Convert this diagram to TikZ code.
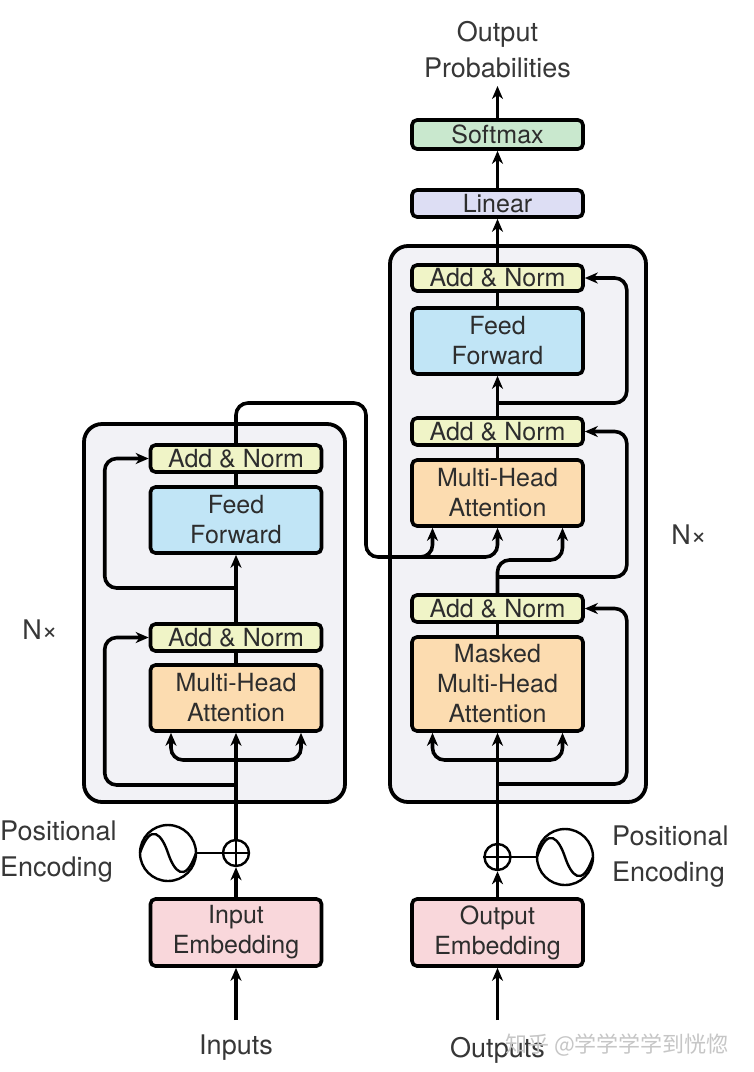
\documentclass[tikz,border=0pt]{standalone}
\usepackage{fontspec}
\setmainfont{TeX Gyre Heros}
\newfontfamily\cjkfont{Noto Sans CJK SC}
\usetikzlibrary{arrows.meta,calc}
\definecolor{anc}{RGB}{240,244,199}
\definecolor{ffc}{RGB}{193,229,246}
\definecolor{mhac}{RGB}{252,220,176}
\definecolor{embc}{RGB}{249,215,219}
\definecolor{softc}{RGB}{201,232,206}
\definecolor{linc}{RGB}{221,222,244}
\definecolor{outerc}{RGB}{242,242,246}
\definecolor{txt}{RGB}{45,45,45}
\definecolor{lab}{RGB}{55,55,55}
\begin{document}
\begin{tikzpicture}[x=1pt,y=-1pt,
  blk/.style={draw=black, line width=3.6pt, rounded corners=5pt, minimum width=171pt, align=center, text=txt, font=\fontsize{25}{30}\selectfont, inner sep=0pt},
  arr/.style={line width=3.6pt, -{Stealth[length=13pt,width=11pt,inset=4pt]}},
  ln/.style={line width=3.6pt},
  rc/.style={rounded corners=12pt},
  lbl/.style={text=lab, font=\fontsize{27}{36}\selectfont, align=left, inner sep=0pt},
  outerbox/.style={draw=black, fill=outerc, line width=3.8pt, rounded corners=18pt},
  ring/.style={circle, draw=black, line width=2.4pt, inner sep=0pt}]
\useasboundingbox[fill=white] (0,0) rectangle (754,1072);

% outer stacks
\draw[outerbox] (84,424) rectangle (345,802);
\draw[outerbox] (390,246) rectangle (646,802);

% encoder blocks
\node[blk, fill=anc, minimum height=27pt] (eAN2) at (236,458.5) {Add \& Norm};
\node[blk, fill=ffc, minimum height=66pt] (eFF) at (236,520) {Feed\\Forward};
\node[blk, fill=anc, minimum height=27pt] (eAN1) at (236,637.5) {Add \& Norm};
\node[blk, fill=mhac, minimum height=66pt] (eMHA) at (236,698) {Multi-Head\\Attention};
\node[blk, fill=embc, minimum height=67pt] (eEmb) at (236,932.5) {Input\\Embedding};

% decoder blocks
\node[blk, fill=softc, minimum height=29pt] (soft) at (497.5,134.5) {Softmax};
\node[blk, fill=linc, minimum height=27pt] (lin) at (497.5,203.5) {Linear};
\node[blk, fill=anc, minimum height=26pt] (dAN3) at (497.5,278) {Add \& Norm};
\node[blk, fill=ffc, minimum height=66pt] (dFF) at (497.5,341) {Feed\\Forward};
\node[blk, fill=anc, minimum height=27pt] (dAN2) at (497.5,431.5) {Add \& Norm};
\node[blk, fill=mhac, minimum height=66pt] (dMHA) at (497.5,493) {Multi-Head\\Attention};
\node[blk, fill=anc, minimum height=27pt] (dAN1) at (497.5,608.5) {Add \& Norm};
\node[blk, fill=mhac, minimum height=94pt] (dMMHA) at (497.5,684) {Masked\\Multi-Head\\Attention};
\node[blk, fill=embc, minimum height=67pt] (dEmb) at (497.5,932.5) {Output\\Embedding};

% positional encodings
\node[ring, minimum size=56pt] (ePE) at (168,853) {};
\node[ring, minimum size=26pt] (ePlus) at (236,853) {};
\node[ring, minimum size=56pt] (dPE) at (565,857) {};
\node[ring, minimum size=26pt] (dPlus) at (497.5,857) {};
\draw[line width=2.2pt] (ePlus.north) -- (ePlus.south) (ePlus.west) -- (ePlus.east);
\draw[line width=2.2pt] (dPlus.north) -- (dPlus.south) (dPlus.west) -- (dPlus.east);
\draw[line width=2.4pt] ($(ePE.center)+(-28,0)$) .. controls ($(ePE.center)+(-17,-32)$) and ($(ePE.center)+(-6,-18)$) .. (ePE.center) .. controls ($(ePE.center)+(6,18)$) and ($(ePE.center)+(17,32)$) .. ($(ePE.center)+(28,0)$);
\draw[line width=2.4pt] ($(dPE.center)+(-28,0)$) .. controls ($(dPE.center)+(-17,-32)$) and ($(dPE.center)+(-6,-18)$) .. (dPE.center) .. controls ($(dPE.center)+(6,18)$) and ($(dPE.center)+(17,32)$) .. ($(dPE.center)+(28,0)$);

% labels
\node[lbl, anchor=west] (ePEt) at (0,852) {Positional\\Encoding};
\node[lbl, anchor=west] (dPEt) at (612,857) {Positional\\Encoding};
\node[lbl] (eN) at (40,630) {N×};
\node[lbl] (dN) at (689,535) {N×};
\node[lbl, align=center] (prob) at (497.5,50) {Output\\Probabilities};
\node[lbl] (inp) at (236,1048) {Inputs};
\node[lbl] (outp) at (497.5,1050) {Outputs};
\node[text=gray!45, font=\cjkfont\fontsize{22}{22}\selectfont, anchor=west, inner sep=0pt] (wm) at (505,1045) {知乎 @学学学学到恍惚};

% encoder connectors
\coordinate (eIn) at (236,1020);
\coordinate (eBr) at (236,760);
\coordinate (eR1) at (236,785);
\coordinate (eR2) at (236,588);
\coordinate (eO1) at (236,403);
\coordinate (eO2) at (366,403);
\coordinate (eO3) at (366,557);
\coordinate (eO4) at (405,557);
\draw[arr] (eIn) -- (eEmb.south);
\draw[arr] (eEmb.north) -- (ePlus.south);
\draw[line width=2.4pt] (ePE.east) -- (ePlus.west);
\draw[arr] (ePlus.north) -- (eMHA.south);
\draw[arr,rc] (eBr) -| ($(eMHA.south)+(-65,0)$);
\draw[arr,rc] (eBr) -| ($(eMHA.south)+(65,0)$);
\draw[arr,rc] (eR1) -| ($(eAN1.west)+(-44,0)$) -- (eAN1.west);
\draw[ln] (eMHA.north) -- (eAN1.south);
\draw[arr] (eAN1.north) -- (eFF.south);
\draw[arr,rc] (eR2) -| ($(eAN2.west)+(-44,0)$) -- (eAN2.west);
\draw[ln] (eFF.north) -- (eAN2.south);
\draw[arr,rc] (eAN2.north) -- (eO1) -- (eO2) -- (eO3) -| ($(dMHA.south)+(-65,0)$);
\draw[arr,rc] (eO4) -| (dMHA.south);

% decoder connectors
\coordinate (dIn) at (497.5,1020);
\coordinate (dBr) at (497.5,760);
\coordinate (dR1) at (497.5,784);
\coordinate (dQ) at (497.5,560);
\coordinate (dR2) at (497.5,577);
\coordinate (dR3) at (497.5,403);
\coordinate (probTip) at (497.5,86);
\draw[arr] (dIn) -- (dEmb.south);
\draw[arr] (dEmb.north) -- (dPlus.south);
\draw[line width=2.4pt] (dPlus.east) -- (dPE.west);
\draw[arr] (dPlus.north) -- (dMMHA.south);
\draw[arr,rc] (dBr) -| ($(dMMHA.south)+(-65,0)$);
\draw[arr,rc] (dBr) -| ($(dMMHA.south)+(65,0)$);
\draw[arr,rc] (dR1) -| ($(dAN1.east)+(42,0)$) -- (dAN1.east);
\draw[ln] (dMMHA.north) -- (dAN1.south);
\draw[arr,rc] (dAN1.north) -- (dQ) -| ($(dMHA.south)+(65,0)$);
\draw[arr,rc] (dR2) -| ($(dAN2.east)+(42,0)$) -- (dAN2.east);
\draw[ln] (dMHA.north) -- (dAN2.south);
\draw[arr] (dAN2.north) -- (dFF.south);
\draw[arr,rc] (dR3) -| ($(dAN3.east)+(42,0)$) -- (dAN3.east);
\draw[ln] (dFF.north) -- (dAN3.south);
\draw[arr] (dAN3.north) -- (lin.south);
\draw[arr] (lin.north) -- (soft.south);
\draw[arr] (soft.north) -- (probTip);
\end{tikzpicture}
\end{document}
